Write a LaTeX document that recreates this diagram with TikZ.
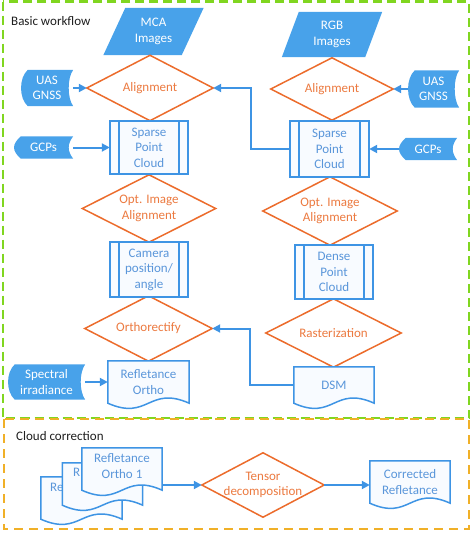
\documentclass[tikz,border=0pt]{standalone}
\usepackage{fontspec}
\setmainfont{Carlito}
\usetikzlibrary{arrows.meta,calc,backgrounds}
\definecolor{fblue}{RGB}{72,162,234}
\definecolor{lblue}{RGB}{62,148,228}
\definecolor{tblue}{RGB}{90,150,218}
\definecolor{lorange}{RGB}{236,108,44}
\definecolor{torange}{RGB}{236,122,64}
\definecolor{dgreen}{RGB}{128,214,32}
\definecolor{dorange}{RGB}{240,176,40}
\definecolor{pale}{RGB}{248,251,255}
\definecolor{ink}{RGB}{30,30,30}
\newcommand\parag[2]{\fill[fblue] ($(#1.north west)+(#2,0)$) -- ($(#1.north east)+(#2,0)$) -- ($(#1.south east)+(-#2,0)$) -- ($(#1.south west)+(-#2,0)$) -- cycle;}
\newcommand\stored[1]{\fill[fblue] ($(#1.north west)+(7,0)$) -- (#1.north east) .. controls ($(#1.north east)+(-6,8)$) and ($(#1.south east)+(-6,-8)$) .. (#1.south east) -- ($(#1.south west)+(7,0)$) .. controls ($(#1.south west)+(-2,-8)$) and ($(#1.north west)+(-2,8)$) .. ($(#1.north west)+(7,0)$) -- cycle;}
\newcommand\predef[1]{\draw[boxline] (#1.north west) rectangle (#1.south east); \draw[draw=lblue,line width=1.5pt] ($(#1.north west)+(9,0)$) -- ($(#1.south west)+(9,0)$) ($(#1.north east)+(-9,0)$) -- ($(#1.south east)+(-9,0)$);}
\newcommand\docu[1]{\draw[boxline] (#1.south east) -- (#1.north east) -- (#1.north west) -- (#1.south west) .. controls ($(#1.south)+(0,18)$) and ($(#1.south)+(0,-18)$) .. (#1.south east) -- cycle;}
\newcommand\mkdia[1]{\draw[dialine] (#1.north) -- (#1.east) -- (#1.south) -- (#1.west) -- cycle;}
\begin{document}
\begin{tikzpicture}[x=1pt,y=-1pt, font=\fontsize{13}{15.5}\selectfont,
 base/.style={rectangle, inner sep=0pt, align=center},
 diatxt/.style={base, text=torange},
 boxtxt/.style={base, text=tblue},
 datatxt/.style={base, text=white},
 dialine/.style={draw=lorange, line width=1.5pt, fill=white, line join=miter},
 boxline/.style={draw=lblue, line width=1.5pt, fill=pale},
 conn/.style={draw=lblue, line width=2pt, -{Triangle[length=8pt,width=8pt]}},
]
\useasboundingbox (0,0) rectangle (474,536);
% frames
\draw[dgreen, line width=2.2pt, dash pattern=on 9pt off 5pt] (3,1.5) rectangle (469,418);
\draw[dorange, line width=2.2pt, dash pattern=on 9pt off 6pt] (4,419) rectangle (469,529);
\node[base, anchor=west, text=ink] (bw) at (11,21) {Basic workflow};
\node[base, anchor=west, text=ink] (cc) at (16,436) {Cloud correction};
% nodes
\node[datatxt, minimum width=78pt, minimum height=47pt] (mca) at (153.5,31.5) {MCA\\Images};
\node[datatxt, minimum width=83pt, minimum height=45pt] (rgb) at (332,34.5) {RGB\\Images};
\node[diatxt, minimum width=126pt, minimum height=65pt] (alL) at (150,88) {Alignment};
\node[diatxt, minimum width=122pt, minimum height=62pt] (alR) at (332,89) {Alignment};
\node[datatxt, minimum width=52pt, minimum height=36pt] (uasL) at (47,88) {UAS\\GNSS};
\node[datatxt, minimum width=51pt, minimum height=37pt] (uasR) at (433.5,89) {UAS\\GNSS};
\node[datatxt, minimum width=59pt, minimum height=22pt] (gcpL) at (43.5,147.5) {GCPs};
\node[datatxt, minimum width=58pt, minimum height=22pt] (gcpR) at (428,149) {GCPs};
\node[boxtxt, minimum width=78pt, minimum height=53pt] (spL) at (149,147.5) {Sparse\\Point\\Cloud};
\node[boxtxt, minimum width=79pt, minimum height=56pt] (spR) at (329.5,149) {Sparse\\Point\\Cloud};
\node[diatxt, minimum width=133pt, minimum height=67pt] (opL) at (149,208.5) {Opt. Image\\Alignment};
\node[diatxt, minimum width=134pt, minimum height=68pt] (opR) at (330,211) {Opt. Image\\Alignment};
\node[boxtxt, minimum width=78pt, minimum height=55pt] (cam) at (149,269.5) {Camera\\position/\\angle};
\node[boxtxt, minimum width=78pt, minimum height=54pt] (den) at (334,272) {Dense\\Point\\Cloud};
\node[diatxt, minimum width=127pt, minimum height=65pt] (orth) at (148.5,328.5) {Orthorectify};
\node[diatxt, minimum width=135pt, minimum height=68pt] (ras) at (333.5,333) {Rasterization};
\node[boxtxt, minimum width=81pt, minimum height=42pt] (ro) at (148.5,382) {Refletance\\Ortho};
\node[boxtxt, minimum width=80pt, minimum height=36pt] (dsm) at (334,385) {DSM};
\node[datatxt, minimum width=77pt, minimum height=35pt] (spec) at (46.5,382) {Spectral\\irradiance};
\node[diatxt, minimum width=122pt, minimum height=64pt] (ten) at (263,485) {Tensor\\decomposition};
\node[boxtxt, minimum width=80pt, minimum height=42pt] (cr) at (410,482) {Corrected\\Refletance};
% shapes behind
\begin{scope}[on background layer]
\parag{mca}{11}
\parag{rgb}{8.5}
\mkdia{alL} \mkdia{alR} \mkdia{opL} \mkdia{opR} \mkdia{orth} \mkdia{ras} \mkdia{ten}
\stored{uasL} \stored{uasR} \stored{gcpL} \stored{gcpR} \stored{spec}
\predef{spL} \predef{spR} \predef{cam} \predef{den}
\docu{ro} \docu{dsm} \docu{cr}
\end{scope}
% stacked documents
\path node[base, minimum width=81pt, minimum height=42pt] (d3) at (81.5,498) {};
\docu{d3}
\node[base, anchor=west, text=tblue] (d3t) at (50,487) {Re};
\path node[base, minimum width=80pt, minimum height=42pt] (d2) at (102.5,484) {};
\docu{d2}
\node[base, anchor=west, text=tblue] (d2t) at (73,472) {R};
\path node[base, minimum width=80pt, minimum height=42pt] (d1) at (122,469) {};
\docu{d1}
\node[boxtxt] (d1t) at (122,466) {Refletance\\Ortho 1};
% connectors
\draw[conn] (uasL.east) -- (alL.west);
\draw[conn] (uasR.west) -- (alR.east);
\draw[conn] (gcpL.east) -- (spL.west);
\draw[conn] (gcpR.west) -- (spR.east);
\draw[conn] (spR.west) -- ++(-39,0) |- (alL.east);
\draw[conn] (dsm.west) -- ++(-44,0) |- (orth.east);
\draw[conn] (spec.east) -- (ro.west);
\draw[conn] (ten.west -| d1.east) -- (ten.west);
\draw[conn] (ten.east) -- (ten.east -| cr.west);
\end{tikzpicture}
\end{document}
